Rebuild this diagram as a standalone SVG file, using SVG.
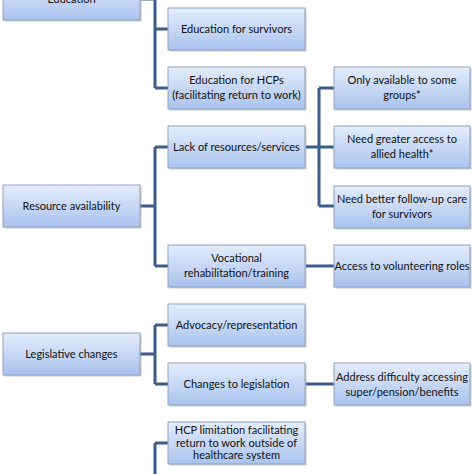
<svg xmlns="http://www.w3.org/2000/svg" width="474" height="474" viewBox="0 0 474 474">
<defs>
<linearGradient id="g" x1="0" y1="0" x2="0" y2="1">
<stop offset="0" stop-color="#e4edfb"/>
<stop offset="1" stop-color="#a9c3ee"/>
</linearGradient>
</defs>
<style>
.b{fill:url(#g);stroke:#8ea2c0;stroke-width:1}
.s{fill:#8a8a8a;opacity:0.45}
.t{font-family:Lato,"Open Sans",sans-serif;font-size:11px;fill:#111111;text-anchor:middle}
.c{fill:none;stroke:#3b5d88;stroke-width:3}
</style>
<rect width="474" height="474" fill="#ffffff"/>
<g id="connectors">
<path class="c" d="M140 -1H155M155 -12V88M155 29H168M155 88H168"/>
<path class="c" d="M140 206H155M155 147V266M155 147H168M155 266H168"/>
<path class="c" d="M306 147H319M319 88V206M319 88H334M319 147H334M319 206H334"/>
<path class="c" d="M306 266H334"/>
<path class="c" d="M140 354H155M155 325V384M155 325H168M155 384H168"/>
<path class="c" d="M306 384H334"/>
<path class="c" d="M155 443V480M155 443H168"/>
</g>
<g id="education"><rect class="s" x="4.5" y="-20.5" width="137" height="42"/><rect class="b" x="3" y="-22" width="137" height="42"/><text class="t" x="71.5" y="3">Education</text></g>
<g id="edu-survivors"><rect class="s" x="169.5" y="9.5" width="137" height="42"/><rect class="b" x="168" y="8" width="137" height="42"/><text class="t" x="236.5" y="33">Education for survivors</text></g>
<g id="edu-hcps"><rect class="s" x="169.5" y="68.5" width="137" height="42"/><rect class="b" x="168" y="67" width="137" height="42"/><text class="t" x="236.5" y="84">Education for HCPs</text><text class="t" x="236.5" y="99">(facilitating return to work)</text></g>
<g id="only-available"><rect class="s" x="335.5" y="68.5" width="136" height="42"/><rect class="b" x="334" y="67" width="136" height="42"/><text class="t" x="402" y="84">Only available to some</text><text class="t" x="402" y="99">groups*</text></g>
<g id="lack-resources"><rect class="s" x="169.5" y="127.5" width="137" height="42"/><rect class="b" x="168" y="126" width="137" height="42"/><text class="t" x="236.5" y="151">Lack of resources/services</text></g>
<g id="allied-health"><rect class="s" x="335.5" y="127.5" width="136" height="42"/><rect class="b" x="334" y="126" width="136" height="42"/><text class="t" x="402" y="143">Need greater access to</text><text class="t" x="402" y="158">allied health*</text></g>
<g id="resource-availability"><rect class="s" x="4.5" y="186.5" width="137" height="42"/><rect class="b" x="3" y="185" width="137" height="42"/><text class="t" x="71.5" y="210">Resource availability</text></g>
<g id="follow-up"><rect class="s" x="335.5" y="187.5" width="136" height="42"/><rect class="b" x="334" y="186" width="136" height="42"/><text class="t" x="402" y="203">Need better follow-up care</text><text class="t" x="402" y="218">for survivors</text></g>
<g id="vocational"><rect class="s" x="169.5" y="246.5" width="137" height="42"/><rect class="b" x="168" y="245" width="137" height="42"/><text class="t" x="236.5" y="262">Vocational</text><text class="t" x="236.5" y="277">rehabilitation/training</text></g>
<g id="volunteering"><rect class="s" x="335.5" y="246.5" width="136" height="42"/><rect class="b" x="334" y="245" width="136" height="42"/><text class="t" x="402" y="270">Access to volunteering roles</text></g>
<g id="advocacy"><rect class="s" x="169.5" y="305.5" width="137" height="42"/><rect class="b" x="168" y="304" width="137" height="42"/><text class="t" x="236.5" y="329">Advocacy/representation</text></g>
<g id="legislative"><rect class="s" x="4.5" y="334.5" width="137" height="42"/><rect class="b" x="3" y="333" width="137" height="42"/><text class="t" x="71.5" y="358">Legislative changes</text></g>
<g id="changes-legislation"><rect class="s" x="169.5" y="364.5" width="137" height="42"/><rect class="b" x="168" y="363" width="137" height="42"/><text class="t" x="236.5" y="388">Changes to legislation</text></g>
<g id="address-difficulty"><rect class="s" x="335.5" y="364.5" width="136" height="42"/><rect class="b" x="334" y="363" width="136" height="42"/><text class="t" x="402" y="381">Address difficulty accessing</text><text class="t" x="402" y="396">super/pension/benefits</text></g>
<g id="hcp-limitation"><rect class="s" x="169.5" y="423.5" width="137" height="42"/><rect class="b" x="168" y="422" width="137" height="42"/><text class="t" x="236.5" y="434">HCP  limitation facilitating</text><text class="t" x="236.5" y="446.5">return to work outside of</text><text class="t" x="236.5" y="459">healthcare system</text></g>
</svg>
